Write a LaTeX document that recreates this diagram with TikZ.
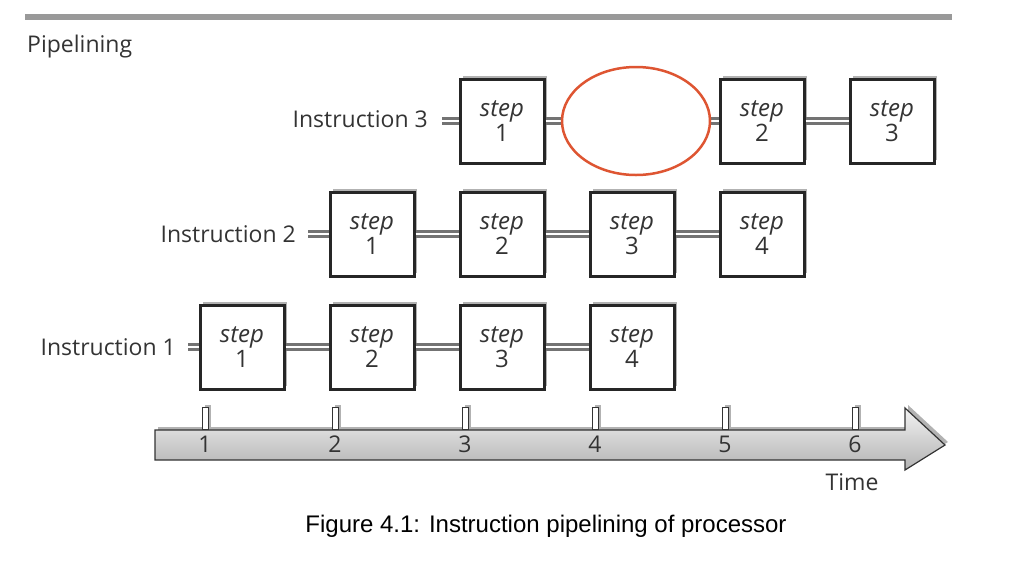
\documentclass[tikz,border=0pt]{standalone}
\usepackage{fontspec}
\setmainfont{Liberation Sans}
\newfontfamily\lab{Open Sans}
\usetikzlibrary{shadows,shapes.geometric}
\begin{document}
\begin{tikzpicture}[x=1pt,y=-1pt,
  stp/.style={draw=black!85,line width=3pt,fill=white,minimum width=84pt,minimum height=84pt,inner sep=0pt,font=\lab\fontsize{24}{25}\selectfont,text=black!80,align=center,drop shadow={shadow xshift=3pt,shadow yshift=3pt,fill=black!30,opacity=1}},
  conn/.style={draw=black!55,line width=3.2pt,double=white,double distance=1.2pt},
  lbl/.style={font=\lab\fontsize{23}{23}\selectfont,text=black!80,anchor=east,inner sep=0pt},
  tick/.style={draw=black!80,fill=white,line width=1pt,minimum width=6pt,minimum height=22pt,inner sep=0pt,drop shadow={shadow xshift=3pt,shadow yshift=2pt,fill=black!30,opacity=1}},
  num/.style={font=\lab\fontsize{23}{23}\selectfont,text=black!80}]
\useasboundingbox (0,0) rectangle (1024,563);
\fill[black!40] (25,14) rectangle (952,20);
\node[font=\lab\fontsize{23}{23}\selectfont,text=black!80,anchor=west,inner sep=0pt] (pip) at (27,47) {Pipelining};
% timeline
\path[draw=black!80,line width=1.2pt,top color=black!5,bottom color=black!30,
  drop shadow={shadow xshift=3pt,shadow yshift=3pt,fill=black!30,opacity=1}]
  (155,430) -- (905,430) -- (905,408) -- (945,445) -- (905,470) -- (905,460) -- (155,460) -- cycle;
\foreach \i/\x in {1/205,2/335,3/465,4/595,5/725,6/855}{
  \node[tick] (t\i) at (\x,418) {};
  \node[num] (n\i) at (\x,444) {\i};
}
\node[num] (time) at (852,482) {Time};
% row 1
\node[stp] (a1) at (242,347) {\textit{step}\\1};
\node[stp] (a2) at (372,347) {\textit{step}\\2};
\node[stp] (a3) at (502,347) {\textit{step}\\3};
\node[stp] (a4) at (632,347) {\textit{step}\\4};
% row 2
\node[stp] (b1) at (372,234) {\textit{step}\\1};
\node[stp] (b2) at (502,234) {\textit{step}\\2};
\node[stp] (b3) at (632,234) {\textit{step}\\3};
\node[stp] (b4) at (762,234) {\textit{step}\\4};
% row 3
\node[stp] (c1) at (502,121) {\textit{step}\\1};
\node[stp] (c2) at (762,121) {\textit{step}\\2};
\node[stp] (c3) at (892,121) {\textit{step}\\3};
\node[lbl] (i1) at (176,347) {Instruction 1};
\node[lbl] (i2) at (296,234) {Instruction 2};
\node[lbl] (i3) at (428,119) {Instruction 3};
\coordinate (e1) at (188,347);
\coordinate (e2) at (308,234);
\coordinate (e3) at (442,121);
\draw[conn] (e1) -- (a1.west);
\draw[conn] (a1.east) -- (a2.west);
\draw[conn] (a2.east) -- (a3.west);
\draw[conn] (a3.east) -- (a4.west);
\draw[conn] (e2) -- (b1.west);
\draw[conn] (b1.east) -- (b2.west);
\draw[conn] (b2.east) -- (b3.west);
\draw[conn] (b3.east) -- (b4.west);
\draw[conn] (e3) -- (c1.west);
\draw[conn] (c1.east) -- (c2.west);
\draw[conn] (c2.east) -- (c3.west);
\node[draw={rgb,255:red,222;green,85;blue,50},line width=2.5pt,fill=white,ellipse,minimum width=148pt,minimum height=108pt] (circ) at (636,121) {};
\node[font=\fontsize{24}{24}\selectfont] (cap) at (546,526) {Figure 4.1: Instruction pipelining of processor};
\end{tikzpicture}
\end{document}
